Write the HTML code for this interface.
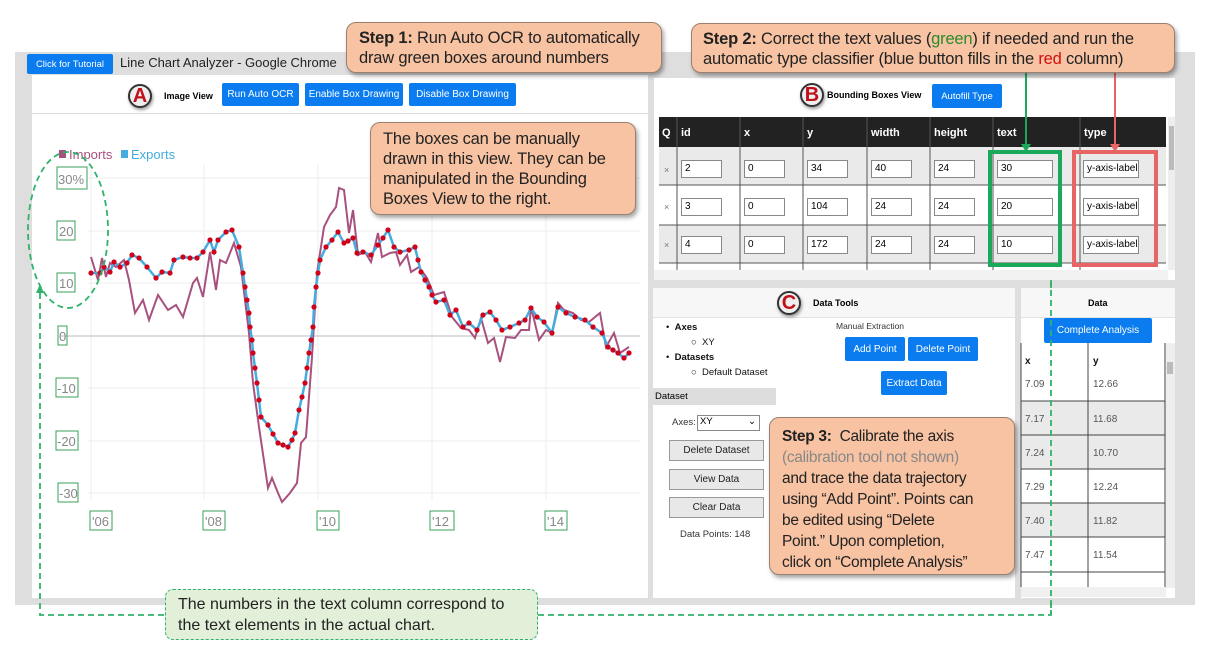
<!DOCTYPE html>
<html><head><meta charset="utf-8"><style>
body{margin:0;width:1207px;height:658px;background:#fff;position:relative;overflow:hidden;font-family:"Liberation Sans",sans-serif;}
.a{position:absolute;box-sizing:border-box;}
.btn{position:absolute;background:#0a7cf0;color:#fff;font-size:10px;display:flex;align-items:center;justify-content:center;border-radius:2px;}
.gbtn{position:absolute;background:#e8e8e8;border:1px solid #999;font-size:10px;display:flex;align-items:center;justify-content:center;color:#222;}
.call{position:absolute;background:#f8c3a3;border:1.5px solid #9a8070;border-radius:10px;box-shadow:2px 3px 4px rgba(0,0,0,.35);color:#222;font-size:16.5px;line-height:20px;box-sizing:border-box;letter-spacing:-0.2px;}
.circ{position:absolute;width:24px;height:24px;border:2px solid #333;border-radius:50%;background:#eee;color:#c0101a;font-weight:bold;font-size:20px;display:flex;align-items:center;justify-content:center;box-shadow:1px 2px 3px rgba(0,0,0,.4);box-sizing:border-box;}
.inp{position:absolute;border:1px solid #888;background:#fff;font-size:10px;padding-left:3px;box-sizing:border-box;height:18px;line-height:16px;}
</style></head><body>
<div class="a" style="left:15px;top:52px;width:1180px;height:553px;background:#dedede"></div>
<div class="btn" style="left:27px;top:54px;width:86px;height:20px;font-size:9.5px">Click for Tutorial</div>
<div class="a" style="left:120px;top:55px;font-size:13px;color:#222">Line Chart Analyzer - Google Chrome</div>
<!-- panel A -->
<div class="a" style="left:32px;top:75px;width:616px;height:523px;background:#fff"></div>
<div class="a" style="left:32px;top:113px;width:616px;height:1px;background:#ddd"></div>
<div class="circ" style="left:128px;top:84px">A</div>
<div class="a" style="left:164px;top:91px;font-size:9px;font-weight:bold">Image View</div>
<div class="btn" style="left:222px;top:83px;width:77px;height:23px">Run Auto OCR</div>
<div class="btn" style="left:305px;top:83px;width:98px;height:23px">Enable Box Drawing</div>
<div class="btn" style="left:409px;top:83px;width:107px;height:23px">Disable Box Drawing</div>
<svg class="a" style="left:0;top:0" width="1207" height="658">
<defs><marker id="d" markerUnits="userSpaceOnUse" markerWidth="6" markerHeight="6" refX="3" refY="3"><circle cx="3" cy="3" r="2.6" fill="#d0021b"/></marker></defs>
<g stroke="#eee" stroke-width="1">
<line x1="88" y1="178" x2="640" y2="178"/><line x1="88" y1="231" x2="640" y2="231"/><line x1="88" y1="283" x2="640" y2="283"/><line x1="88" y1="388" x2="640" y2="388"/><line x1="88" y1="441" x2="640" y2="441"/><line x1="88" y1="493" x2="640" y2="493"/>
<line x1="91" y1="165" x2="91" y2="500"/><line x1="204" y1="165" x2="204" y2="500"/><line x1="318" y1="165" x2="318" y2="500"/><line x1="432" y1="165" x2="432" y2="500"/><line x1="546" y1="165" x2="546" y2="500"/></g>
<line x1="60" y1="336" x2="640" y2="336" stroke="#bbb"/>
<polyline fill="none" stroke="#a8517f" stroke-width="2" points="91,257 98,280 102,258 106,277 110,263 116,267 124,260 129,280 135,313 143,300 149,320 158,295 168,310 176,305 183,317 193,283 197,278 203,297 210,252 216,290 220,260 226,263 234,243 241,267 245,300 249,333 253,383 259,427 268,488 272,478 278,493 282,502 290,493 297,483 301,443 306,437 312,357 317,273 324,227 330,215 336,207 339,188 344,190 349,233 353,210 358,255 365,252 371,262 378,233 382,257 390,253 396,252 400,265 407,255 411,272 419,267 427,278 434,295 444,292 452,317 461,328 469,330 475,338 481,318 488,343 494,338 500,362 506,337 515,338 521,330 529,330 531,307 539,340 546,330 552,333 558,303 564,310 573,313 581,320 589,322 600,313 606,347 614,333 620,353 629,347"/>
<polyline fill="none" stroke="#45acdf" stroke-width="2.5" marker-mid="url(#d)" marker-start="url(#d)" marker-end="url(#d)" points="91,273 100,273 104,267 110,272 114,262 120,267 127,263 132,255 139,258 147,267 156,278 162,272 170,273 174,260 183,257 190,258 197,258 203,252 210,240 214,252 218,240 226,232 232,230 239,247 243,273 245,287 247,300 249,313 250,327 252,340 253,353 255,368 257,383 259,400 261,417 268,425 273,434 278,443 283,445 288,447 292,440 295,433 299,410 302,397 305,383 307,368 309,353 311,340 313,327 314,307 316,287 318,273 320,260 326,247 332,240 338,232 344,243 348,241 353,238 357,253 363,252 371,255 378,245 383,238 388,230 394,247 400,252 409,250 415,247 418,260 421,272 425,280 429,287 432,295 436,302 444,300 450,315 456,310 463,327 469,323 477,330 483,315 490,312 496,320 502,330 510,327 519,323 525,320 531,308 537,317 544,322 552,333 558,307 566,313 575,317 585,320 593,327 602,333 608,347 613,350 618,353 624,358 629,353"/>
<g fill="none" stroke="#3aa05a" stroke-width="1">
<rect x="57" y="167" width="30" height="22"/><rect x="57" y="221" width="18" height="19"/><rect x="57" y="273" width="18" height="19"/><rect x="58" y="326" width="9" height="19"/><rect x="56" y="378" width="22" height="19"/><rect x="56" y="431" width="22" height="19"/><rect x="58" y="483" width="20" height="19"/>
<rect x="90" y="511" width="22" height="19"/><rect x="203" y="511" width="22" height="19"/><rect x="317" y="511" width="22" height="19"/><rect x="430" y="511" width="24" height="19"/><rect x="545" y="511" width="22" height="19"/></g>
<g font-family="Liberation Sans" font-size="13" fill="#888"><text x="58" y="184">30%</text><text x="59" y="236">20</text><text x="59" y="288">10</text><text x="59" y="341">0</text><text x="57" y="393">-10</text><text x="57" y="446">-20</text><text x="59" y="498">-30</text>
<text x="92" y="526">'06</text><text x="205" y="526">'08</text><text x="319" y="526">'10</text><text x="432" y="526">'12</text><text x="547" y="526">'14</text></g>
<rect x="59" y="150" width="7" height="8" fill="#a8517f"/><text x="69" y="159" font-size="13" fill="#a8517f" font-family="Liberation Sans">Imports</text>
<rect x="121" y="150" width="7" height="8" fill="#45acdf"/><text x="131" y="159" font-size="13" fill="#45acdf" font-family="Liberation Sans">Exports</text>
<g fill="none" stroke="#2fb36a" stroke-width="1.8" stroke-dasharray="6,4">
<ellipse cx="68" cy="230" rx="40" ry="78"/>
<polyline points="40,293 40,615 1051,615 1051,265"/></g>
<polygon points="36,293 44,293 40,284" fill="#2fb36a"/>
</svg>
<div class="call" style="left:370px;top:122px;width:266px;height:93px;padding:6px 12px">The boxes can be manually drawn in this view. They can be manipulated in the Bounding Boxes View to the right.</div>
<div class="call" style="left:346px;top:22px;width:316px;height:51px;padding:5px 12px"><b>Step 1:</b> Run Auto OCR to automatically draw green boxes around numbers</div>
<!-- panel B -->
<div class="a" style="left:654px;top:78px;width:521px;height:202px;background:#fff"></div>
<div class="circ" style="left:800px;top:83px">B</div>
<div class="a" style="left:827px;top:90px;font-size:9px;font-weight:bold">Bounding Boxes View</div>
<div class="btn" style="left:932px;top:84px;width:70px;height:24px;font-size:9.5px">Autofill Type</div>
<div class="a" style="left:659px;top:117px;width:507px;height:30px;background:#222"></div>
<div class="a" style="left:659px;top:147px;width:507px;height:38px;background:#eaeaea"></div>
<div class="a" style="left:659px;top:225px;width:507px;height:38px;background:#eaeaea"></div>
<svg class="a" style="left:0;top:0" width="1207" height="658">
<g stroke="#555" stroke-width="1"><line x1="659" y1="185" x2="1166" y2="185"/><line x1="659" y1="225" x2="1166" y2="225"/><line x1="659" y1="263" x2="1166" y2="263"/>
<line x1="677" y1="117" x2="677" y2="270"/><line x1="740" y1="117" x2="740" y2="270"/><line x1="803" y1="117" x2="803" y2="270"/><line x1="867" y1="117" x2="867" y2="270"/><line x1="930" y1="117" x2="930" y2="270"/><line x1="993" y1="117" x2="993" y2="270"/><line x1="1080" y1="117" x2="1080" y2="270"/></g>
<g fill="#fff" font-family="Liberation Sans" font-size="11" font-weight="bold"><text x="662" y="136">Q</text><text x="681" y="136">id</text><text x="744" y="136">x</text><text x="807" y="136">y</text><text x="871" y="136">width</text><text x="934" y="136">height</text><text x="997" y="136">text</text><text x="1084" y="136">type</text></g>
<g fill="#777" font-size="9" font-family="Liberation Sans"><text x="664" y="173">×</text><text x="664" y="210">×</text><text x="664" y="248">×</text></g>
<rect x="1168" y="117" width="7" height="153" fill="#eee"/><rect x="1169" y="126" width="5" height="44" fill="#bbb"/>
<rect x="654" y="270" width="514" height="10" fill="#f2f2f2"/>
</svg>
<div class="inp" style="left:681px;top:160px;width:41px">2</div><div class="inp" style="left:744px;top:160px;width:41px">0</div><div class="inp" style="left:807px;top:160px;width:41px">34</div><div class="inp" style="left:871px;top:160px;width:41px">40</div><div class="inp" style="left:934px;top:160px;width:41px">24</div><div class="inp" style="left:997px;top:160px;width:56px">30</div><div class="inp" style="left:1083px;top:160px;width:56px">y-axis-label</div>
<div class="inp" style="left:681px;top:198px;width:41px">3</div><div class="inp" style="left:744px;top:198px;width:41px">0</div><div class="inp" style="left:807px;top:198px;width:41px">104</div><div class="inp" style="left:871px;top:198px;width:41px">24</div><div class="inp" style="left:934px;top:198px;width:41px">24</div><div class="inp" style="left:997px;top:198px;width:56px">20</div><div class="inp" style="left:1083px;top:198px;width:56px">y-axis-label</div>
<div class="inp" style="left:681px;top:236px;width:41px">4</div><div class="inp" style="left:744px;top:236px;width:41px">0</div><div class="inp" style="left:807px;top:236px;width:41px">172</div><div class="inp" style="left:871px;top:236px;width:41px">24</div><div class="inp" style="left:934px;top:236px;width:41px">24</div><div class="inp" style="left:997px;top:236px;width:56px">10</div><div class="inp" style="left:1083px;top:236px;width:56px">y-axis-label</div>
<div class="a" style="left:988px;top:150px;width:74px;height:117px;border:4px solid #1aa85a"></div>
<div class="a" style="left:1072px;top:150px;width:86px;height:117px;border:4px solid #e86565"></div>
<svg class="a" style="left:0;top:0" width="1207" height="658">
<line x1="1026" y1="72" x2="1026" y2="145" stroke="#1aa85a" stroke-width="2"/><polygon points="1021,144 1031,144 1026,152" fill="#1aa85a"/>
<line x1="1115" y1="72" x2="1115" y2="145" stroke="#e86565" stroke-width="2"/><polygon points="1110,144 1120,144 1115,152" fill="#e86565"/>
</svg>
<div class="call" style="left:691px;top:23px;width:484px;height:50px;padding:5px 11px"><b>Step 2:</b> Correct the text values (<span style="color:#2d8a2d">green</span>) if needed and run the automatic type classifier (blue button fills in the <span style="color:#d01010">red</span> column)</div>
<!-- panel C -->
<div class="a" style="left:653px;top:288px;width:362px;height:310px;background:#fff"></div>
<div class="a" style="left:653px;top:288px;width:362px;height:30px;background:#f7f7f7;border-bottom:1px solid #e4e4e4"></div>
<div class="circ" style="left:777px;top:291px">C</div>
<div class="a" style="left:813px;top:298px;font-size:9px;font-weight:bold">Data Tools</div>
<div class="a" style="left:666px;top:320px;font-size:9.5px;line-height:15px;color:#111">•&nbsp;&nbsp;<b>Axes</b><br><span style="padding-left:25px">○&nbsp;&nbsp;XY</span><br>•&nbsp;&nbsp;<b>Datasets</b><br><span style="padding-left:25px">○&nbsp;&nbsp;Default Dataset</span></div>
<div class="a" style="left:653px;top:388px;width:123px;height:17px;background:#ddd;font-size:9.5px;padding:3px 2px">Dataset</div>
<div class="a" style="left:672px;top:417px;font-size:9.5px;color:#333">Axes:</div>
<div class="a" style="left:697px;top:415px;width:63px;height:16px;border:1px solid #888;font-size:9.5px;padding-left:2px">XY<span style="float:right;padding-right:3px">⌄</span></div>
<div class="gbtn" style="left:669px;top:440px;width:93px;height:19px">Delete Dataset</div>
<div class="gbtn" style="left:669px;top:469px;width:93px;height:19px">View Data</div>
<div class="gbtn" style="left:669px;top:497px;width:93px;height:19px">Clear Data</div>
<div class="a" style="left:680px;top:529px;font-size:9.5px;color:#333">Data Points: 148</div>
<div class="a" style="left:836px;top:321px;font-size:8.5px;color:#333">Manual Extraction</div>
<div class="btn" style="left:845px;top:337px;width:60px;height:24px">Add Point</div>
<div class="btn" style="left:908px;top:337px;width:70px;height:24px">Delete Point</div>
<div class="btn" style="left:881px;top:371px;width:66px;height:24px">Extract Data</div>
<!-- Data -->
<div class="a" style="left:1021px;top:288px;width:154px;height:310px;background:#fff"></div>
<div class="a" style="left:1021px;top:288px;width:154px;height:30px;background:#f7f7f7;border-bottom:1px solid #e4e4e4"></div>
<div class="a" style="left:1088px;top:298px;font-size:9px;font-weight:bold">Data</div>
<div class="btn" style="left:1044px;top:318px;width:108px;height:25px">Complete Analysis</div>
<div class="a" style="left:1021px;top:435px;width:145px;height:34px;background:#eaeaea"></div>
<div class="a" style="left:1021px;top:503px;width:145px;height:34px;background:#eaeaea"></div>
<div class="a" style="left:1021px;top:401px;width:145px;height:34px;background:#eaeaea"></div>
<svg class="a" style="left:0;top:0" width="1207" height="658">
<g stroke="#444"><line x1="1021" y1="343" x2="1021" y2="587"/><line x1="1088" y1="343" x2="1088" y2="587"/><line x1="1165" y1="343" x2="1165" y2="587"/>
<line x1="1021" y1="401" x2="1165" y2="401"/><line x1="1021" y1="435" x2="1165" y2="435"/><line x1="1021" y1="469" x2="1165" y2="469"/><line x1="1021" y1="503" x2="1165" y2="503"/><line x1="1021" y1="537" x2="1165" y2="537"/><line x1="1021" y1="572" x2="1165" y2="572"/></g>
<g font-family="Liberation Sans" font-size="10" fill="#555"><text x="1025" y="364" font-weight="bold" fill="#111">x</text><text x="1093" y="364" font-weight="bold" fill="#111">y</text>
<text x="1025" y="387">7.09</text><text x="1093" y="387">12.66</text><text x="1025" y="422">7.17</text><text x="1093" y="422">11.68</text><text x="1025" y="456">7.24</text><text x="1093" y="456">10.70</text><text x="1025" y="490">7.29</text><text x="1093" y="490">12.24</text><text x="1025" y="524">7.40</text><text x="1093" y="524">11.82</text><text x="1025" y="558">7.47</text><text x="1093" y="558">11.54</text></g>
<rect x="1021" y="587" width="145" height="10" fill="#f0f0f0"/><rect x="1166" y="343" width="9" height="245" fill="#eee"/><rect x="1167" y="362" width="6" height="12" fill="#bbb"/>
<line x1="1051" y1="280" x2="1051" y2="615" stroke="#2fb36a" stroke-width="1.8" stroke-dasharray="6,4"/>
</svg>
<div class="call" style="left:769px;top:417px;width:246px;height:158px;padding:8px 6px 8px 12px;font-size:15.5px;line-height:21px;letter-spacing:-0.3px;white-space:nowrap"><b>Step 3:</b>&nbsp; Calibrate the axis<br><span style="color:#888">(calibration tool not shown)</span><br>and trace the data trajectory<br>using “Add Point”. Points can<br>be edited using “Delete<br>Point.” Upon completion,<br>click on “Complete Analysis”</div>
<div class="a" style="left:165px;top:589px;width:373px;height:51px;background:#e2efd9;border:1.5px dashed #2fb36a;border-radius:8px;font-size:16px;line-height:21px;padding:4px 12px;color:#222">The numbers in the text column correspond to the text elements in the actual chart.</div>
</body></html>
